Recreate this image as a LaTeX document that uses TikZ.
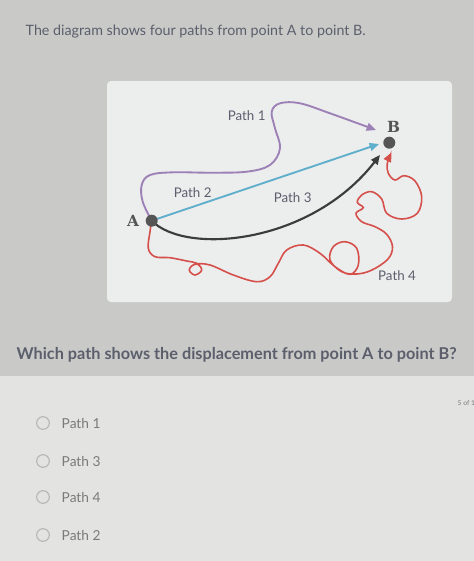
\documentclass[tikz,border=0pt]{standalone}
\usepackage{fontspec}
\setmainfont{Lato}
\newfontfamily\slabfont{DejaVu Serif}
\usetikzlibrary{arrows.meta}
\definecolor{bgtop}{HTML}{C9C9C7}
\definecolor{bgbottom}{HTML}{E3E4E2}
\definecolor{panel}{HTML}{ECEDED}
\definecolor{ink}{HTML}{5B5F6C}
\definecolor{optink}{HTML}{7A7A7A}
\definecolor{optring}{HTML}{B8B8B6}
\definecolor{dotgray}{HTML}{555555}
\definecolor{pathone}{HTML}{9C80B6}
\definecolor{pathtwo}{HTML}{5FAECB}
\definecolor{paththree}{HTML}{3C3C3C}
\definecolor{pathfour}{HTML}{D5504B}
\begin{document}
\begin{tikzpicture}[x=0.75pt,y=-0.75pt,
    pt/.style={circle,fill=dotgray,inner sep=0pt,minimum size=9pt},
    ptname/.style={font=\slabfont\bfseries\fontsize{11.5}{11.5}\selectfont,text=dotgray},
    lbl/.style={font=\fontsize{10}{10}\selectfont,text=ink},
    tip/.style={-{Triangle[length=7pt,width=6pt]}},
    ring/.style={circle,draw=optring,line width=0.9pt,inner sep=0pt,minimum size=9.5pt},
    choice/.style={anchor=west,font=\fontsize{10.3}{10.3}\selectfont,text=optink}]
  \useasboundingbox (0,0) rectangle (474,561);
  \fill[bgtop] (0,0) rectangle (474,376);
  \fill[bgbottom] (0,376) rectangle (474,561);
  \fill[panel,rounded corners=3pt] (107,81) rectangle (452,302);
  \node[anchor=west,font=\fontsize{10.7}{10.7}\selectfont,text=ink] (intro) at (21,32)
    {The diagram shows four paths from point A to point B.};
  \node[anchor=west,font=\bfseries\fontsize{12.2}{12.2}\selectfont,text=ink] (question) at (12,355)
    {Which path shows the displacement from point A to point B?};
  \node[anchor=west,font=\fontsize{5}{5}\selectfont,text=optink] (page) at (453,403) {5 of 1};
  \coordinate (A) at (151.7,220.7);
  \coordinate (B) at (389.3,142.7);
  \coordinate (p1end) at (376,130);
  \coordinate (p2end) at (379,144);
  \coordinate (p3end) at (380,155);
  \coordinate (p4end) at (391.5,152.5);
  \draw[pathone,line width=1.4pt,tip] plot[smooth,tension=0.6] coordinates {(A) (142.7,201.7) (141.7,185) (150,175) (173.3,172.3) (210,172.7) (246.7,171.7) (270,165) (280,148.3) (275,128.3) (271.7,111.7) (280,103.3) (300,103.3) (330,113.3) (p1end)};
  \draw[pathtwo,line width=1.4pt,tip] (A) -- (p2end);
  \draw[paththree,line width=1.6pt,tip] (A) .. controls (185,255) and (310,245) .. (p3end);
  \draw[pathfour,line width=1.2pt,tip] plot[smooth,tension=0.6] coordinates {(A) (150,231.7) (148.3,248.3) (155,256.7) (170,257.7) (186.7,261) (196.7,263.3) (201.7,270) (195,275) (189.3,270) (195,264.3) (210,265) (233.3,275) (256.7,281.7) (270,276.7) (278.3,263.3) (286.7,250) (303.3,245) (320,253.3) (335,266.7) (350,274.3) (358.3,265) (356.7,248.3) (345,241.7) (333.3,246.7) (330,260) (341.7,271.7) (356.7,274) (372,270) (388,259) (392.5,246.7) (386.7,234.3) (375,226.7) (361.7,221.7) (356,213.3) (363.3,207.7) (357.3,202.3) (361.7,195) (371.7,191.7) (381.7,199) (386.7,213.3) (401.7,219) (417.3,213.3) (421.7,196.7) (415,181) (404,175.7) (395,180) (388.3,173.3) (387.3,163.3) (p4end)};
  \node[pt] (Adot) at (A) {};
  \node[pt] (Bdot) at (B) {};
  \node[ptname] (Aname) at (133,220.7) {A};
  \node[ptname] (Bname) at (393.5,126.5) {B};
  \node[lbl] (one) at (246.7,115.7) {Path 1};
  \node[lbl] (two) at (192.7,192.3) {Path 2};
  \node[lbl] (three) at (292.7,197.7) {Path 3};
  \node[lbl] (four) at (397,276) {Path 4};
  \node[ring] (r1) at (43,423) {};
  \node[ring] (r2) at (43,461) {};
  \node[ring] (r3) at (43,497) {};
  \node[ring] (r4) at (43,535) {};
  \node[choice] (c1) at (57,423) {Path 1};
  \node[choice] (c2) at (57,461) {Path 3};
  \node[choice] (c3) at (57,497) {Path 4};
  \node[choice] (c4) at (57,535) {Path 2};
\end{tikzpicture}
\end{document}
